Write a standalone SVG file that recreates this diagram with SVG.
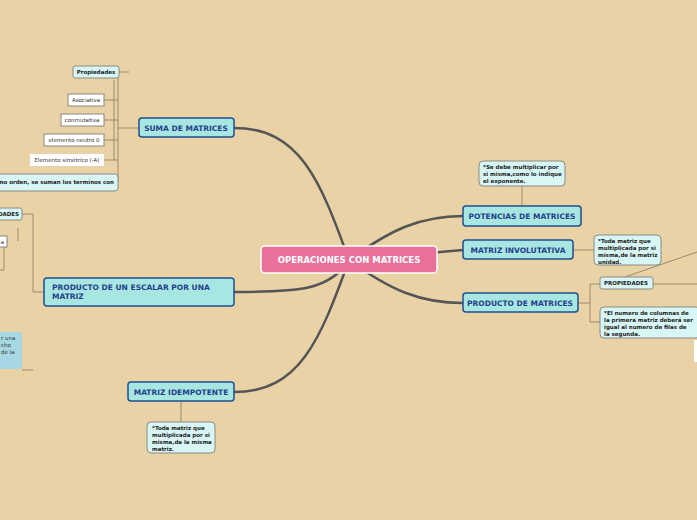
<svg xmlns="http://www.w3.org/2000/svg" width="697" height="520" viewBox="0 0 697 520">
<style>
.b{fill:#a8e6e2;stroke:#1f4f8f;stroke-width:1.5}
.bt{font:bold 7.5px "DejaVu Sans",sans-serif;fill:#1f3f8a}
.n{fill:#d8f6f6;stroke:#8a8a80;stroke-width:1}
.w{fill:#fff;stroke:#8a8a80;stroke-width:1}
.nt{font:bold 5.5px "DejaVu Sans",sans-serif;fill:#222}
.wt{font:5.5px "DejaVu Sans",sans-serif;fill:#333}
.c{fill:none;stroke:#555;stroke-width:2.5}
.l{fill:none;stroke:#9a8a70;stroke-width:1}
</style>
<rect width="697" height="520" fill="#e9d2a6"/>
<g id="connectors">
<path class="c" d="M349,260 C320,180 300,128 234,128"/>
<path class="c" d="M349,260 C330,290 300,292 234,292"/>
<path class="c" d="M349,260 C320,340 300,392 234,392"/>
<path class="c" d="M349,260 C390,230 420,216 463,216"/>
<path class="c" d="M349,260 L463,250"/>
<path class="c" d="M349,260 C390,290 420,303 463,303"/>
<path class="l" d="M139,128 H118 M118,72 V182 M118,72 H129 M118,100 H104 M118,120 H104 M118,140 H104 M118,160 H104 M118,182 H104"/>
<path class="l" d="M114,80 V160"/>
<path class="l" d="M44,292 H33 V214 H22 M33,370 H22 M0,270 H4 V241 H8"/>
<path class="l" d="M18,228 V241"/>
<path class="l" d="M181,402 V422"/>
<path class="l" d="M522,206 V186"/>
<path class="l" d="M573,250 H595"/>
<path class="l" d="M578,303 H590 M590,284 V322 M590,284 H600 M590,322 H600 M653,284 H697 M625,277 L697,252"/>
</g>
<g id="center"><rect x="261" y="246" width="176" height="27" rx="4" fill="#e8709a" stroke="#fff" stroke-width="1.5"/><text x="349" y="263" text-anchor="middle" style="font:bold 8.5px 'DejaVu Sans',sans-serif;fill:#fff">OPERACIONES CON MATRICES</text></g>
<g id="suma"><rect class="b" x="139" y="118" width="95" height="19" rx="3"/><text class="bt" x="186" y="131" text-anchor="middle">SUMA DE MATRICES</text></g>
<g id="prop1"><rect class="n" x="73" y="66" width="46" height="12" rx="2"/><text class="nt" x="96" y="74" text-anchor="middle">Propiedades</text></g>
<g id="asoc"><rect class="w" x="68" y="94" width="36" height="12"/><text class="wt" x="86" y="102" text-anchor="middle">Asociativa</text></g>
<g id="conm"><rect class="w" x="61" y="114" width="43" height="12"/><text class="wt" x="82" y="122" text-anchor="middle">conmutativa</text></g>
<g id="neutro"><rect class="w" x="44" y="134" width="60" height="12"/><text class="wt" x="74" y="142" text-anchor="middle">elemento neutro 0</text></g>
<g id="sim"><rect x="30" y="154" width="74" height="12" fill="#fff"/><text class="wt" x="67" y="162" text-anchor="middle">Elemento simétrico (-A)</text></g>
<g id="orden"><rect class="n" x="-20" y="174" width="138" height="17" rx="3"/><text class="nt" x="114" y="184" text-anchor="end">mo orden, se suman los terminos con</text></g>
<g id="escalar"><rect class="b" x="44" y="278" width="190" height="28" rx="3"/><text class="bt" x="52" y="290">PRODUCTO DE UN ESCALAR POR UNA</text><text class="bt" x="52" y="299">MATRIZ</text></g>
<g id="prop2"><rect class="n" x="-20" y="208" width="42" height="12" rx="2"/><text class="nt" x="19" y="216" text-anchor="end">DADES</text></g>
<g id="e1"><rect class="w" x="-10" y="236" width="17" height="11"/><text class="wt" x="4" y="244" text-anchor="end">a</text></g>
<g id="escnote"><rect x="-5" y="332" width="27" height="37" rx="2" fill="#a6d8e4"/><text class="wt" x="1" y="340" fill="#557">r una</text><text class="wt" x="1" y="347" fill="#557">cho</text><text class="wt" x="1" y="354" fill="#557">de la</text></g>
<g id="idem"><rect class="b" x="128" y="382" width="106" height="19" rx="3"/><text class="bt" x="181" y="395" text-anchor="middle">MATRIZ IDEMPOTENTE</text></g>
<g id="idemnote"><rect class="n" x="147" y="422" width="68" height="31" rx="4"/><text class="nt" x="152" y="430">*Toda matriz que</text><text class="nt" x="152" y="437">multiplicada por si</text><text class="nt" x="152" y="444">misma,da la misma</text><text class="nt" x="152" y="451">matriz.</text></g>
<g id="pot"><rect class="b" x="463" y="206" width="118" height="20" rx="3"/><text class="bt" x="522" y="219" text-anchor="middle">POTENCIAS DE MATRICES</text></g>
<g id="potnote"><rect class="n" x="479" y="161" width="86" height="25" rx="4"/><text class="nt" x="483" y="169">*Se debe multiplicar por</text><text class="nt" x="483" y="176">si misma,como lo indique</text><text class="nt" x="483" y="183">el exponente.</text></g>
<g id="invol"><rect class="b" x="463" y="240" width="110" height="19" rx="3"/><text class="bt" x="518" y="253" text-anchor="middle">MATRIZ INVOLUTATIVA</text></g>
<g id="involnote"><rect class="n" x="594" y="235" width="67" height="30" rx="4"/><text class="nt" x="598" y="243">*Toda matriz que</text><text class="nt" x="598" y="250">multiplicada por si</text><text class="nt" x="598" y="257">misma,de la matriz</text><text class="nt" x="598" y="264">unidad.</text></g>
<g id="prod"><rect class="b" x="463" y="293" width="115" height="19" rx="3"/><text class="bt" x="520" y="306" text-anchor="middle">PRODUCTO DE MATRICES</text></g>
<g id="prop3"><rect class="n" x="600" y="277" width="53" height="12" rx="2"/><text class="nt" x="626" y="285" text-anchor="middle">PROPIEDADES</text></g>
<g id="prodnote"><rect class="n" x="600" y="307" width="100" height="31" rx="4"/><text class="nt" x="604" y="315">*El numero de columnas de</text><text class="nt" x="604" y="322">la primera matriz deberá ser</text><text class="nt" x="604" y="329">igual al numero de filas de</text><text class="nt" x="604" y="336">la segunda.</text></g>
<g id="edge"><rect x="694" y="340" width="5" height="22" fill="#fff"/></g>
</svg>
